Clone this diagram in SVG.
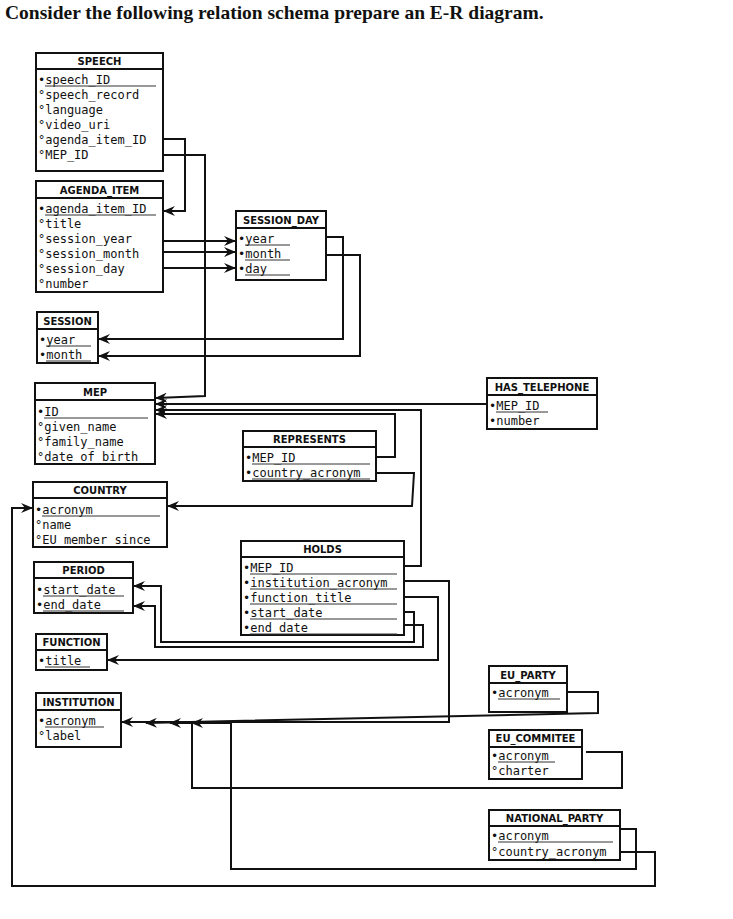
<svg xmlns="http://www.w3.org/2000/svg" width="733" height="919" viewBox="0 0 733 919">
<style>
.box{fill:#fff;stroke:#111;stroke-width:2}
.hl{stroke:#111;stroke-width:2}
.h{font-family:"DejaVu Sans",sans-serif;font-weight:bold;font-size:10px;text-anchor:middle;fill:#111}
.a{font-family:"DejaVu Sans Mono",monospace;font-size:12px;fill:#111}
.u{stroke:#333;stroke-width:1}
.c{fill:none;stroke:#111;stroke-width:2}
.t{font-family:"Liberation Serif",serif;font-weight:bold;font-size:19.5px;fill:#111}
</style>
<defs>
<marker id="ar" viewBox="0 0 12 10" refX="11" refY="5" markerWidth="12" markerHeight="10" markerUnits="userSpaceOnUse" orient="auto">
<path d="M12,5 L0,0 L4,5 L0,10 Z" fill="#111"/>
</marker>
</defs>
<rect width="733" height="919" fill="#fff"/>
<text class="t" x="5" y="19">Consider the following relation schema prepare an E-R diagram.</text>

<g id="connectors">
<path class="c" d="M163,139 H185 V211 H164" marker-end="url(#ar)"/>
<path class="c" d="M163,155 H205 V396 L156,398" marker-end="url(#ar)"/>
<path class="c" d="M163,241 H235" marker-end="url(#ar)"/>
<path class="c" d="M163,252 H235" marker-end="url(#ar)"/>
<path class="c" d="M163,268 H235" marker-end="url(#ar)"/>
<path class="c" d="M326,237 H343 V339 H99" marker-end="url(#ar)"/>
<path class="c" d="M326,255 H360 V356 H99" marker-end="url(#ar)"/>
<path class="c" d="M487,404 H156" marker-end="url(#ar)"/>
<path class="c" d="M404,566 H421 V410 H156" marker-end="url(#ar)"/>
<path class="c" d="M376,457 H395 V414 H156" marker-end="url(#ar)"/>
<path class="c" d="M376,473 H414 L412,506 H168" marker-end="url(#ar)"/>
<path class="c" d="M404,581 H449 V722 H122" marker-end="url(#ar)"/>
<path class="c" d="M404,597 H438 V660 H108" marker-end="url(#ar)"/>
<path class="c" d="M404,612 H414 V642 H161 V586 H134" marker-end="url(#ar)"/>
<path class="c" d="M401,625 H423 V647 H155 V606 H134" marker-end="url(#ar)"/>
<path class="c" d="M567,692 H598 V713 L146,723" marker-end="url(#ar)"/>
<path class="c" d="M586,752 H622 V788 H192 V723 H170" marker-end="url(#ar)"/>
<path class="c" d="M620,829 H636 V869 H231 V723 H192" marker-end="url(#ar)"/>
<path class="c" d="M620,852 H655 V886 H12 V508 H32" marker-end="url(#ar)"/>
</g>

<g id="speech">
<rect class="box" x="36" y="53" width="127" height="118"/>
<line class="hl" x1="36" y1="69" x2="163" y2="69"/>
<text class="h" x="99.5" y="65">SPEECH</text>
<text class="a" x="38" y="84">•speech_ID</text><line class="u" x1="45" y1="86" x2="156" y2="86"/>
<text class="a" x="38" y="99">°speech_record</text>
<text class="a" x="38" y="114">°language</text>
<text class="a" x="38" y="129">°video_uri</text>
<text class="a" x="38" y="144">°agenda_item_ID</text>
<text class="a" x="38" y="159">°MEP_ID</text>
</g>

<g id="agenda_item">
<rect class="box" x="36" y="181" width="127" height="111"/>
<line class="hl" x1="36" y1="198" x2="163" y2="198"/>
<text class="h" x="99.5" y="194">AGENDA_ITEM</text>
<text class="a" x="38" y="213">•agenda_item_ID</text><line class="u" x1="45" y1="215" x2="156" y2="215"/>
<text class="a" x="38" y="228">°title</text>
<text class="a" x="38" y="243">°session_year</text>
<text class="a" x="38" y="258">°session_month</text>
<text class="a" x="38" y="273">°session_day</text>
<text class="a" x="38" y="288">°number</text>
</g>

<g id="session_day">
<rect class="box" x="236" y="211" width="90" height="69"/>
<line class="hl" x1="236" y1="228" x2="326" y2="228"/>
<text class="h" x="281" y="224">SESSION_DAY</text>
<text class="a" x="238" y="243">•year</text><line class="u" x1="245" y1="245" x2="290" y2="245"/>
<text class="a" x="238" y="258">•month</text><line class="u" x1="245" y1="260" x2="290" y2="260"/>
<text class="a" x="238" y="273">•day</text><line class="u" x1="245" y1="275" x2="290" y2="275"/>
</g>

<g id="session">
<rect class="box" x="37" y="312" width="61" height="51"/>
<line class="hl" x1="37" y1="329" x2="98" y2="329"/>
<text class="h" x="67.5" y="325">SESSION</text>
<text class="a" x="39" y="344">•year</text><line class="u" x1="46" y1="346" x2="91" y2="346"/>
<text class="a" x="39" y="359">•month</text><line class="u" x1="46" y1="361" x2="91" y2="361"/>
</g>

<g id="mep">
<rect class="box" x="35" y="383" width="120" height="81"/>
<line class="hl" x1="35" y1="400" x2="155" y2="400"/>
<text class="h" x="95" y="396">MEP</text>
<text class="a" x="37" y="416">•ID</text><line class="u" x1="44" y1="418" x2="148" y2="418"/>
<text class="a" x="37" y="431">°given_name</text>
<text class="a" x="37" y="446">°family_name</text>
<text class="a" x="37" y="461">°date_of_birth</text>
</g>

<g id="has_telephone">
<rect class="box" x="487" y="378" width="110" height="51"/>
<line class="hl" x1="487" y1="395" x2="597" y2="395"/>
<text class="h" x="542" y="391">HAS_TELEPHONE</text>
<text class="a" x="489" y="410">•MEP_ID</text><line class="u" x1="496" y1="412" x2="548" y2="412"/>
<text class="a" x="489" y="425">•number</text>
</g>

<g id="represents">
<rect class="box" x="243" y="431" width="133" height="50"/>
<line class="hl" x1="243" y1="447" x2="376" y2="447"/>
<text class="h" x="309.5" y="443">REPRESENTS</text>
<text class="a" x="245" y="462">•MEP_ID</text><line class="u" x1="252" y1="464" x2="370" y2="464"/>
<text class="a" x="245" y="477">•country_acronym</text><line class="u" x1="252" y1="479" x2="370" y2="479"/>
</g>

<g id="country">
<rect class="box" x="33" y="482" width="134" height="65"/>
<line class="hl" x1="33" y1="498" x2="167" y2="498"/>
<text class="h" x="100" y="494">COUNTRY</text>
<text class="a" x="35" y="514">•acronym</text><line class="u" x1="42" y1="516" x2="160" y2="516"/>
<text class="a" x="35" y="529">°name</text>
<text class="a" x="35" y="544">°EU_member_since</text>
</g>

<g id="holds">
<rect class="box" x="241" y="541" width="163" height="94"/>
<line class="hl" x1="241" y1="557" x2="404" y2="557"/>
<text class="h" x="322.5" y="553">HOLDS</text>
<text class="a" x="243" y="572">•MEP_ID</text><line class="u" x1="250" y1="574" x2="397" y2="574"/>
<text class="a" x="243" y="587">•institution_acronym</text><line class="u" x1="250" y1="589" x2="397" y2="589"/>
<text class="a" x="243" y="602">•function_title</text><line class="u" x1="250" y1="604" x2="397" y2="604"/>
<text class="a" x="243" y="617">•start_date</text><line class="u" x1="250" y1="619" x2="397" y2="619"/>
<text class="a" x="243" y="632">•end_date</text><line class="u" x1="250" y1="634" x2="397" y2="634"/>
</g>

<g id="period">
<rect class="box" x="34" y="562" width="99" height="51"/>
<line class="hl" x1="34" y1="578" x2="133" y2="578"/>
<text class="h" x="83.5" y="574">PERIOD</text>
<text class="a" x="36" y="594">•start_date</text><line class="u" x1="43" y1="596" x2="124" y2="596"/>
<text class="a" x="36" y="609">•end_date</text><line class="u" x1="43" y1="611" x2="124" y2="611"/>
</g>

<g id="function">
<rect class="box" x="36" y="634" width="71" height="36"/>
<line class="hl" x1="36" y1="650" x2="107" y2="650"/>
<text class="h" x="71.5" y="646">FUNCTION</text>
<text class="a" x="38" y="665">•title</text><line class="u" x1="45" y1="667" x2="90" y2="667"/>
</g>

<g id="institution">
<rect class="box" x="36" y="693" width="85" height="54"/>
<line class="hl" x1="36" y1="710" x2="121" y2="710"/>
<text class="h" x="78.5" y="706">INSTITUTION</text>
<text class="a" x="38" y="725">•acronym</text><line class="u" x1="45" y1="727" x2="104" y2="727"/>
<text class="a" x="38" y="740">°label</text>
</g>

<g id="eu_party">
<rect class="box" x="489" y="666" width="78" height="46"/>
<line class="hl" x1="489" y1="683" x2="567" y2="683"/>
<text class="h" x="528" y="679">EU_PARTY</text>
<text class="a" x="491" y="697">•acronym</text><line class="u" x1="498" y1="699" x2="560" y2="699"/>
</g>

<g id="eu_commitee">
<rect class="box" x="489" y="730" width="93" height="49"/>
<line class="hl" x1="489" y1="747" x2="582" y2="747"/>
<text class="h" x="535.5" y="742">EU_COMMITEE</text>
<text class="a" x="491" y="760">•acronym</text><line class="u" x1="498" y1="762" x2="555" y2="762"/>
<text class="a" x="491" y="775">°charter</text>
</g>

<g id="national_party">
<rect class="box" x="489" y="810" width="131" height="50"/>
<line class="hl" x1="489" y1="826" x2="620" y2="826"/>
<text class="h" x="554.5" y="822">NATIONAL_PARTY</text>
<text class="a" x="491" y="840">•acronym</text><line class="u" x1="498" y1="842" x2="613" y2="842"/>
<text class="a" x="491" y="856">°country_acronym</text>
</g>
</svg>
